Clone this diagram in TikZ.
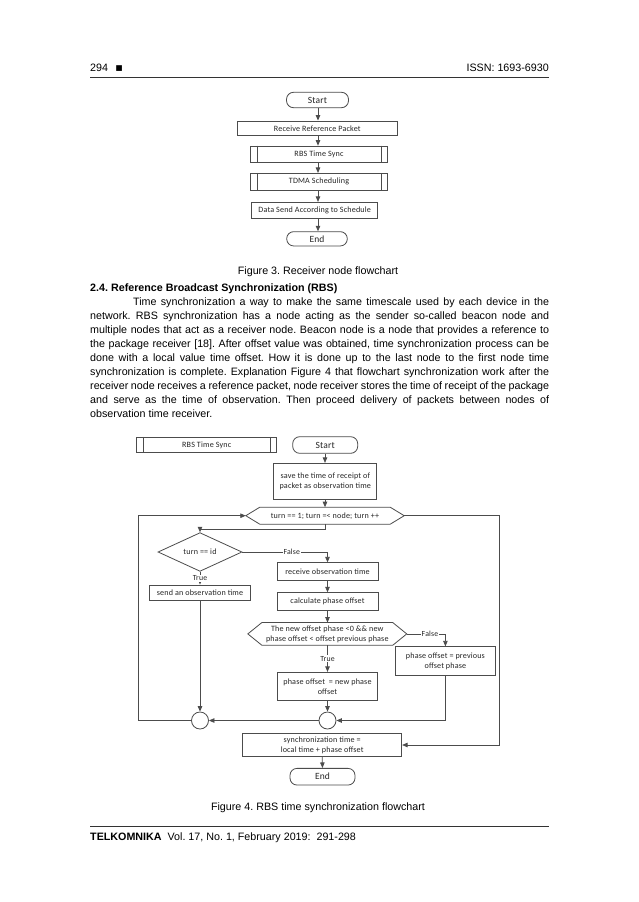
\documentclass[tikz,border=0pt]{standalone}
\usepackage{fontspec}
\setmainfont{Liberation Sans}
\newfontfamily\flow[LetterSpace=2]{Carlito}
\newfontfamily\dejavu{DejaVu Sans}
\usetikzlibrary{arrows.meta,shapes.geometric,calc}
\frenchspacing
\tikzset{
  ln/.style={draw=black!70, line width=0.8pt},
  arr/.style={ln, -{Triangle[length=5.5pt,width=4.5pt]}},
  box/.style={draw=black!70, line width=0.8pt, rectangle, inner sep=1pt,
    font=\flow\fontsize{8.1}{10}\selectfont, align=center, text=black!85},
  term/.style={box, rounded corners=7pt, font=\flow\fontsize{9.5}{11}\selectfont},
  dia/.style={box, diamond, inner sep=0pt},
  junc/.style={draw=black!70, line width=0.8pt, circle, minimum size=17pt, inner sep=0pt},
  hexlbl/.style={rectangle, inner sep=0pt, font=\flow\fontsize{8.1}{10}\selectfont, align=center, text=black!85},
  lbl/.style={fill=white, inner sep=1pt, font=\flow\fontsize{7.8}{8}\selectfont, text=black!85},
  body/.style={inner sep=0pt, anchor=base west, font=\fontsize{10.72}{13.9}\selectfont},
}
\begin{document}
\begin{tikzpicture}[x=1pt,y=-1pt]
\useasboundingbox (0,0) rectangle (638,902);
\fill[white] (0,0) rectangle (638,902);

% ---------- header ----------
\node[body] (pg) at (90,71) {294};
\node[body, font=\dejavu\fontsize{7.5}{8}\selectfont] (sq) at (115.5,70.5) {■};
\node[body, anchor=base east] (issn) at (549,71) {ISSN: 1693-6930};
\draw[black!80, line width=0.9pt] (90,77) -- (549,77);

% ---------- Figure 3 ----------
\node[term, minimum width=62pt, minimum height=15.4pt] (s3) at (317.5,100) {Start};
\node[box, minimum width=160pt, minimum height=14.7pt] (r3) at (317.3,128.3) {Receive Reference Packet};
\node[box, minimum width=136.6pt, minimum height=16.3pt] (b3) at (319,154.2) {RBS Time Sync};
\draw[ln] ([xshift=6.6pt]b3.north west) -- ([xshift=6.6pt]b3.south west)
          ([xshift=-6.6pt]b3.north east) -- ([xshift=-6.6pt]b3.south east);
\node[box, minimum width=136.6pt, minimum height=16.7pt] (t3) at (319,181.7) {TDMA Scheduling};
\draw[ln] ([xshift=6.6pt]t3.north west) -- ([xshift=6.6pt]t3.south west)
          ([xshift=-6.6pt]t3.north east) -- ([xshift=-6.6pt]t3.south east);
\node[box, minimum width=126pt, minimum height=16pt] (d3) at (314.7,210.3) {Data Send According to Schedule};
\node[term, minimum width=60.6pt, minimum height=14.3pt] (e3) at (317,238.8) {End};
\coordinate (ax3) at (318,0);
\draw[arr] (s3.south -| ax3) -- (r3.north -| ax3);
\draw[arr] (r3.south -| ax3) -- (b3.north -| ax3);
\draw[arr] (b3.south -| ax3) -- (t3.north -| ax3);
\draw[arr] (t3.south -| ax3) -- (d3.north -| ax3);
\draw[arr] (d3.south -| ax3) -- (e3.north -| ax3);

\node[body, anchor=base] (cap3) at (318,274) {Figure 3. Receiver node flowchart};

% ---------- section text ----------
\node[body, font=\bfseries\fontsize{10.72}{13.9}\selectfont] (h24) at (90,291) {2.4. Reference Broadcast Synchronization (RBS)};
\node[body] (l1) at (133,305) {\makebox[416pt][s]{Time synchronization a way to make the same timescale used by each device in the}};
\node[body] (l2) at (90,319) {\makebox[459pt][s]{network. RBS synchronization has a node acting as the sender so-called beacon node and}};
\node[body] (l3) at (90,333) {\makebox[459pt][s]{multiple nodes that act as a receiver node. Beacon node is a node that provides a reference to}};
\node[body] (l4) at (90,347) {\makebox[459pt][s]{the package receiver [18]. After offset value was obtained, time synchronization process can be}};
\node[body] (l5) at (90,361) {\makebox[459pt][s]{done with a local value time offset. How it is done up to the last node to the first node time}};
\node[body] (l6) at (90,375) {\makebox[459pt][s]{synchronization is complete. Explanation Figure 4 that flowchart synchronization work after the}};
\node[body] (l7) at (90,389) {\makebox[459pt][s]{receiver node receives a reference packet, node receiver stores the time of receipt of the package}};
\node[body] (l8) at (90,403) {\makebox[459pt][s]{and serve as the time of observation. Then proceed delivery of packets between nodes of}};
\node[body] (l9) at (90,417) {observation time receiver.};

% ---------- Figure 4 ----------
\node[box, minimum width=140pt, minimum height=15.4pt] (rbs) at (206.7,445) {RBS Time Sync};
\draw[ln] ([xshift=6.6pt]rbs.north west) -- ([xshift=6.6pt]rbs.south west)
          ([xshift=-6.6pt]rbs.north east) -- ([xshift=-6.6pt]rbs.south east);
\node[term, minimum width=65pt, minimum height=16.6pt] (s4) at (325.2,445) {Start};
\node[box, minimum width=103pt, minimum height=36pt] (sv) at (325.3,481.3) {save the time of receipt of\\packet as observation time};

% hexagon 1 (loop)
\node[hexlbl, minimum width=130pt, minimum height=16.6pt] (h1) at (325,515.7) {turn == 1; turn =< node; turn ++};
\coordinate (h1l) at ($(h1.west)+(-14,0)$);
\coordinate (h1r) at ($(h1.east)+(14,0)$);
\draw[ln] (h1.north west) -- (h1.north east) -- (h1r) -- (h1.south east) -- (h1.south west) -- (h1l) -- cycle;

\node[dia, minimum width=84pt, minimum height=23pt] (di) at (200,552) {turn == id};
\node[box, minimum width=101pt, minimum height=15pt] (snd) at (200,592.5) {send an observation time};
\node[box, minimum width=101pt, minimum height=17.3pt] (rcv) at (327.5,571.4) {receive observation time};
\node[box, minimum width=101pt, minimum height=18pt] (cal) at (327.5,601.7) {calculate phase offset};

% hexagon 2 (decision)
\node[hexlbl, minimum width=130.5pt, minimum height=22.3pt] (h2) at (327.3,633.9) {The new offset phase <0 \&\& new\\phase offset < offset previous phase};
\coordinate (h2l) at ($(h2.west)+(-14,0)$);
\coordinate (h2r) at ($(h2.east)+(14,0)$);
\draw[ln] (h2.north west) -- (h2.north east) -- (h2r) -- (h2.south east) -- (h2.south west) -- (h2l) -- cycle;

\node[box, minimum width=99.3pt, minimum height=28.3pt] (prv) at (445.4,660.9) {phase offset = previous\\offset phase};
\node[box, minimum width=99.6pt, minimum height=28.4pt] (nw) at (327.5,686.5) {phase offset \ = new phase\\offset};
\node[junc] (c1) at (200,720.5) {};
\node[junc] (c2) at (327.5,720.5) {};
\node[box, minimum width=159pt, minimum height=23.4pt] (sy) at (322.2,745) {synchronization time =\\local time + phase offset};
\node[term, minimum width=65pt, minimum height=16.7pt] (e4) at (322.5,776.7) {End};

\coordinate (lx) at (138,0);
\coordinate (rx) at (499,0);
\coordinate (ax4) at (325,0);

\draw[arr] (s4.south -| ax4) -- (sv.north -| ax4);
\draw[arr] (sv.south -| ax4) -- (h1.north -| ax4);
\draw[arr] (h1.south -| ax4) -- ++(0,5.5) -| (di.north);
\draw[arr] (di.east) -- (rcv.north |- di.east) node[lbl, pos=0.58] {False} -- (rcv.north);
\draw[arr] (di.south) -- (snd.north) node[lbl, midway] {True};
\draw[arr] (rcv.south) -- (cal.north);
\draw[arr] (cal.south) -- (h2.north -| cal.south);
\draw[arr] (h2.south -| nw.north) -- (nw.north) node[lbl, midway] {True};
\draw[arr] (h2r) -- (prv.north |- h2r) node[lbl, pos=0.6] {False} -- (prv.north);
\draw[arr] (nw.south) -- (c2.north);
\draw[arr] (prv.south) |- (c2.east);
\draw[arr] (c2.west) -- (c1.east);
\draw[arr] (snd.south) -- (c1.north);
\draw[arr] (c1.west) -- (c1.west -| lx) -- (h1l -| lx) -- (h1l);
\draw[arr] (h1r) -- (h1r -| rx) -- (sy.east -| rx) -- (sy.east);
\draw[arr] (sy.south) -- (e4.north);

\node[body, anchor=base] (cap4) at (318,810) {Figure 4. RBS time synchronization flowchart};

% ---------- footer ----------
\draw[black!80, line width=0.9pt] (90,826) -- (549,826);
\node[body] (ft) at (90,840) {\textbf{TELKOMNIKA}\ \ Vol. 17, No. 1, February 2019:\ \ 291-298};
\end{tikzpicture}
\end{document}
